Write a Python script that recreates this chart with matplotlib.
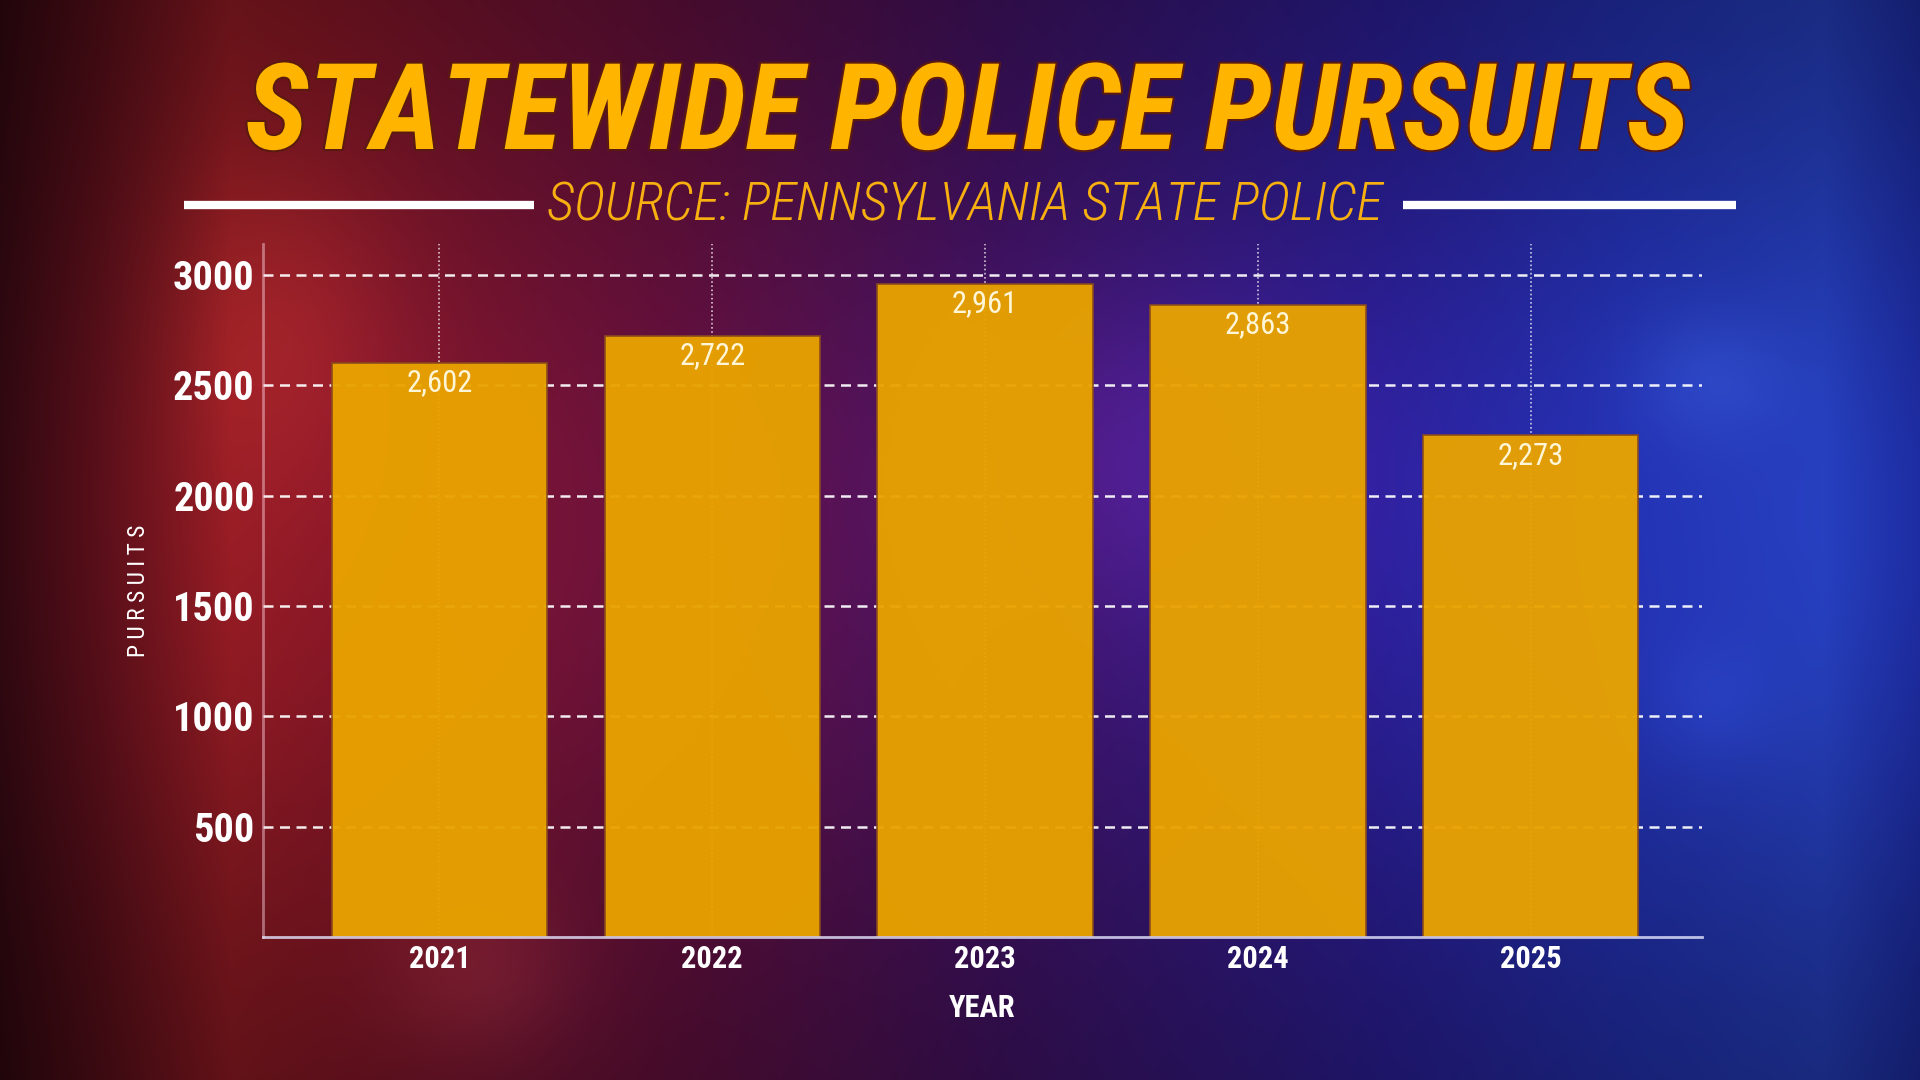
import numpy as np
import matplotlib
matplotlib.use("Agg")
import matplotlib.pyplot as plt
from matplotlib.lines import Line2D
from matplotlib import font_manager
import matplotlib.patheffects as pe

# ---------------- data ----------------
years = ["2021", "2022", "2023", "2024", "2025"]
pursuits = [2602, 2722, 2961, 2863, 2273]
y_ticks = [500, 1000, 1500, 2000, 2500, 3000]
title_text = "STATEWIDE POLICE PURSUITS"
subtitle_text = "SOURCE: PENNSYLVANIA STATE POLICE"

W, H = 1920, 1080
fig = plt.figure(figsize=(W / 100, H / 100), dpi=100)

# ---------------- font choice (prefer a condensed face if installed) ----------------
names = {f.name for f in font_manager.fontManager.ttflist}
cond_family = "DejaVu Sans"
for cand in ["Roboto Condensed", "Liberation Sans Narrow", "Open Sans Condensed",
             "DejaVu Sans Condensed", "Noto Sans Condensed"]:
    if cand in names:
        cond_family = cand
        break
narrow = [cond_family, "DejaVu Sans"]
STRETCH = "condensed"

# ---------------- background ----------------
xs = np.linspace(0, 1, W)
ys = np.linspace(0, 1, H)
X, Y = np.meshgrid(xs, ys)
stops = [0.0, 0.05, 0.12, 0.18, 0.35, 0.52, 0.72, 0.85, 0.95, 1.0]
cols = np.array([
    [0x2E, 0x08, 0x10],
    [0x52, 0x0E, 0x18],
    [0x8C, 0x1A, 0x22],
    [0x82, 0x16, 0x26],
    [0x62, 0x10, 0x3C],
    [0x40, 0x12, 0x62],
    [0x2A, 0x1E, 0x92],
    [0x22, 0x30, 0xAA],
    [0x24, 0x3C, 0xB4],
    [0x1C, 0x2A, 0x98],
]) / 255.0
img = np.zeros((H, W, 3))
for c in range(3):
    img[:, :, c] = np.interp(X, stops, cols[:, c])
vert = 0.62 + 0.45 * np.exp(-((Y - 0.48) / 0.40) ** 2)
img *= vert[:, :, None]


def glow(cx, cy, sx, sy, rgb, amp):
    g = amp * np.exp(-(((X - cx) / sx) ** 2 + ((Y - cy) / sy) ** 2))
    return g[:, :, None] * np.array(rgb)[None, None, :]


img += glow(0.15, 0.30, 0.06, 0.15, [0.25, 0.10, 0.06], 0.40)
img += glow(0.60, 0.42, 0.10, 0.15, [0.22, 0.08, 0.28], 0.35)
img += glow(0.89, 0.35, 0.04, 0.06, [0.10, 0.18, 0.20], 0.35)
img += glow(0.89, 0.65, 0.035, 0.06, [0.06, 0.12, 0.22], 0.30)
img += glow(0.25, 0.90, 0.05, 0.08, [0.25, 0.12, 0.10], 0.40)
img = np.clip(img, 0, 1)

bg = fig.add_axes([0, 0, 1, 1], zorder=-10)
bg.imshow(img, aspect="auto", extent=[0, 1, 0, 1], origin="upper")
bg.set_axis_off()

# ---------------- main axes ----------------
ax = fig.add_axes([263 / W, 1 - 937 / H, (1702 - 263) / W, (937 - 244) / H])
ax.set_facecolor("none")
x = np.arange(len(years))

ax.set_xlim(-0.647, 4.628)
ax.set_ylim(0, 3140)

for yt in y_ticks:
    ax.axhline(yt, color="white", lw=1.8, dashes=(4, 2.6), alpha=0.92, zorder=1)
for xi in x:
    ax.axvline(xi, color="white", lw=1.2, linestyle=(0, (1, 1.5)), alpha=0.75, zorder=1)

ax.bar(x, pursuits, width=0.79, color="#E9A300", edgecolor="#8A4A1C",
       linewidth=1.2, alpha=0.96, zorder=2)

for xi, v in zip(x, pursuits):
    ax.text(xi, v - 90, f"{v:,}", ha="center", va="center", color="#FFF6D8",
            fontsize=22, family=narrow, fontstretch=STRETCH, zorder=3)

ax.set_xticks(x)
ax.set_xticklabels(years, family=narrow, fontsize=22, color="white",
                   fontweight="bold", fontstretch=STRETCH)
ax.set_yticks(y_ticks)
ax.set_yticklabels([str(t) for t in y_ticks], family=narrow, fontsize=29,
                   color="white", fontweight="bold", fontstretch=STRETCH)
ax.tick_params(axis="both", length=0)
ax.tick_params(axis="y", pad=6)
ax.tick_params(axis="x", pad=5)

for s in ["top", "right"]:
    ax.spines[s].set_visible(False)
ax.spines["left"].set_color((1, 0.85, 0.9, 0.45))
ax.spines["left"].set_linewidth(2)
ax.spines["bottom"].set_color((0.9, 0.9, 1.0, 0.8))
ax.spines["bottom"].set_linewidth(2)

ax.set_ylabel("P U R S U I T S", family=narrow, fontsize=17, color="white",
              fontstretch=STRETCH)
ax.yaxis.set_label_coords((150 - 263) / (1702 - 263), 0.5)
ax.set_xlabel("YEAR", family=narrow, fontsize=22, color="white",
              fontweight="bold", fontstretch=STRETCH)
ax.xaxis.set_label_coords(0.5, (937 - 993) / (937 - 244))

# ---------------- title & subtitle ----------------
title = fig.text(967 / W, 1 - 116 / H, title_text, ha="center", va="center",
                 color="#FFB400", fontsize=96, family=narrow, fontweight="heavy",
                 style="italic", fontstretch=STRETCH,
                 path_effects=[pe.withStroke(linewidth=3, foreground="#5A1A10")])
subtitle = fig.text(965 / W, 1 - 206 / H, subtitle_text, ha="center", va="center",
                    color="#F7B010", fontsize=44, family=narrow, style="italic",
                    fontweight="light", fontstretch=STRETCH)

fig.canvas.draw()
r = fig.canvas.get_renderer()
for t, target in [(title, 1445), (subtitle, 837)]:
    w = t.get_window_extent(r).width
    t.set_fontsize(t.get_fontsize() * target / w)

for x0, x1 in [(184, 534), (1403, 1736)]:
    fig.add_artist(Line2D([x0 / W, x1 / W], [1 - 205 / H, 1 - 205 / H],
                          transform=fig.transFigure, color="white", lw=6,
                          solid_capstyle="butt"))

fig.savefig("out.png", dpi=100)
